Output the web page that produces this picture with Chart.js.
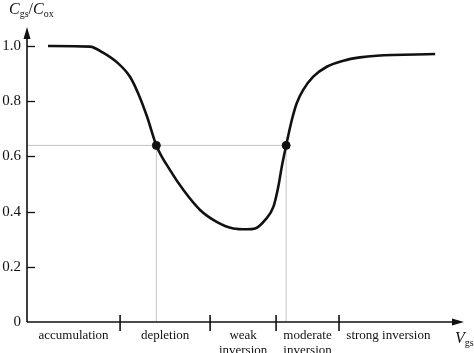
<!DOCTYPE html>
<html>
<head>
<meta charset="utf-8">
<script src="https://cdn.jsdelivr.net/npm/chart.js@4/dist/chart.umd.min.js"></script>
<style>
  html, body { margin: 0; padding: 0; background: #fff; }
  #wrap { width: 474px; height: 353px; }
</style>
</head>
<body>
<div id="wrap"><canvas id="cv"></canvas></div>
<script>
// curve C_gs/C_ox vs V_gs (arbitrary V_gs units)
const vgs    = [0.48, 1.44, 1.74, 2.08, 2.36, 2.54, 2.75, 2.96, 3.27, 3.58, 3.96, 4.34, 4.72, 5.03, 5.22, 5.45, 5.64, 5.75, 5.83, 5.93, 6.06, 6.17, 6.32, 6.55, 6.86, 7.24, 7.62, 8.00, 9.34];
const cRatio = [1.00, 0.998, 0.976, 0.938, 0.888, 0.830, 0.743, 0.64, 0.551, 0.478, 0.406, 0.363, 0.339, 0.336, 0.339, 0.370, 0.418, 0.490, 0.563, 0.64, 0.732, 0.792, 0.841, 0.889, 0.925, 0.947, 0.959, 0.965, 0.971];

// marked points
const markX = [2.96, 5.93];
const markY = [0.64, 0.64];

// region boundaries on the V_gs axis and their names
const bounds = [0, 2.13, 4.19, 5.70, 7.14, 9.4];
const regions = [["accumulation"], ["depletion"], ["weak", "inversion"], ["moderate", "inversion"], ["strong inversion"]];

const yTicks = [0, 0.2, 0.4, 0.6, 0.8, 1.0];
const yTickLabels = ["0", "0.2", "0.4", "0.6", "0.8", "1.0"];

const serif = "'Liberation Serif', 'DejaVu Serif', serif";
const ink = "#111";
const guide = "#c4c4c4";

const curve = vgs.map((x, i) => ({ x: x, y: cRatio[i] }));
const marks = markX.map((x, i) => ({ x: x, y: markY[i] }));

// guide lines from the marked points to the axes
const guides = [
  { label: "h", data: [{ x: 0, y: markY[0] }, { x: markX[1], y: markY[1] }] },
  { label: "v1", data: [{ x: markX[0], y: 0 }, { x: markX[0], y: markY[0] }] },
  { label: "v2", data: [{ x: markX[1], y: 0 }, { x: markX[1], y: markY[1] }] }
].map(g => ({
  label: g.label, data: g.data, borderColor: guide, borderWidth: 1,
  pointRadius: 0, tension: 0, order: 3
}));

const axesPlugin = {
  id: "axes",
  afterDatasetsDraw(chart) {
    const ctx = chart.ctx;
    const xs = chart.scales.x, ys = chart.scales.y;
    const x0 = xs.left, y0 = ys.bottom, x1 = xs.right, yTop = ys.top;
    ctx.save();
    ctx.strokeStyle = ink;
    ctx.fillStyle = ink;
    ctx.lineWidth = 1.6;
    // axes
    ctx.beginPath();
    ctx.moveTo(x0, y0); ctx.lineTo(x0, yTop + 6);
    ctx.moveTo(x0, y0); ctx.lineTo(x1 - 8, y0);
    ctx.stroke();
    // arrowheads
    ctx.beginPath();
    ctx.moveTo(x0, yTop); ctx.lineTo(x0 - 3.5, yTop + 12); ctx.lineTo(x0 + 3.5, yTop + 12); ctx.closePath();
    ctx.fill();
    ctx.beginPath();
    ctx.moveTo(x1, y0); ctx.lineTo(x1 - 12, y0 - 3.5); ctx.lineTo(x1 - 12, y0 + 3.5); ctx.closePath();
    ctx.fill();
    // y tick marks (inside)
    ctx.lineWidth = 1.3;
    yTicks.forEach(v => {
      if (v === 0) return;
      const py = Math.round(ys.getPixelForValue(v)) + 0.5;
      ctx.beginPath(); ctx.moveTo(x0, py); ctx.lineTo(x0 + 8, py); ctx.stroke();
    });
    // region boundary ticks
    ctx.lineWidth = 1.6;
    bounds.slice(1, -1).forEach(b => {
      const px = xs.getPixelForValue(b);
      ctx.beginPath(); ctx.moveTo(px, y0 - 7); ctx.lineTo(px, y0 + 9); ctx.stroke();
    });
    // region names
    ctx.font = "13px " + serif;
    ctx.textAlign = "center";
    ctx.textBaseline = "alphabetic";
    regions.forEach((lines, i) => {
      const cx = xs.getPixelForValue((bounds[i] + bounds[i + 1]) / 2);
      lines.forEach((t, j) => ctx.fillText(t, cx, y0 + 17 + j * 15));
    });
    // axis titles
    ctx.textAlign = "left";
    const drawSub = (x, y, main, sub) => {
      ctx.font = "italic 16px " + serif;
      ctx.fillText(main, x, y);
      const w = ctx.measureText(main).width;
      ctx.font = "10px " + serif;
      ctx.fillText(sub, x + w, y + 3);
      return x + w + ctx.measureText(sub).width;
    };
    let tx = drawSub(9, 14, "C", "gs");
    ctx.font = "16px " + serif;
    ctx.fillText("/", tx, 14);
    tx += ctx.measureText("/").width;
    drawSub(tx, 14, "C", "ox");
    drawSub(455, 343, "V", "gs");
    ctx.restore();
  }
};

new Chart(document.getElementById("cv"), {
  type: "line",
  data: {
    datasets: [
      {
        label: "Cgs/Cox", data: curve, borderColor: ink, borderWidth: 2.6,
        pointRadius: 0, cubicInterpolationMode: "monotone", order: 1
      },
      {
        label: "marks", data: marks, showLine: false, pointRadius: 4,
        pointBackgroundColor: ink, pointBorderColor: ink, order: 0
      },
      ...guides
    ]
  },
  options: {
    responsive: true,
    maintainAspectRatio: false,
    animation: false,
    layout: { padding: { top: 27, right: 10, left: 0, bottom: 0 } },
    plugins: { legend: { display: false }, tooltip: { enabled: false } },
    scales: {
      x: {
        type: "linear", min: 0, max: 10,
        grid: { display: false, drawTicks: false },
        border: { display: false },
        ticks: { display: false },
        afterFit(scale) { scale.height = 31; }
      },
      y: {
        type: "linear", min: 0, max: 1.069,
        grid: { display: false, drawTicks: false },
        border: { display: false },
        afterBuildTicks(scale) { scale.ticks = yTicks.map(v => ({ value: v })); },
        ticks: {
          color: ink, padding: 6,
          font: { family: serif, size: 15 },
          callback: (v) => yTickLabels[yTicks.indexOf(v)] ?? ""
        },
        afterFit(scale) { scale.width = 27; }
      }
    }
  },
  plugins: [axesPlugin]
});
</script>
</body>
</html>
